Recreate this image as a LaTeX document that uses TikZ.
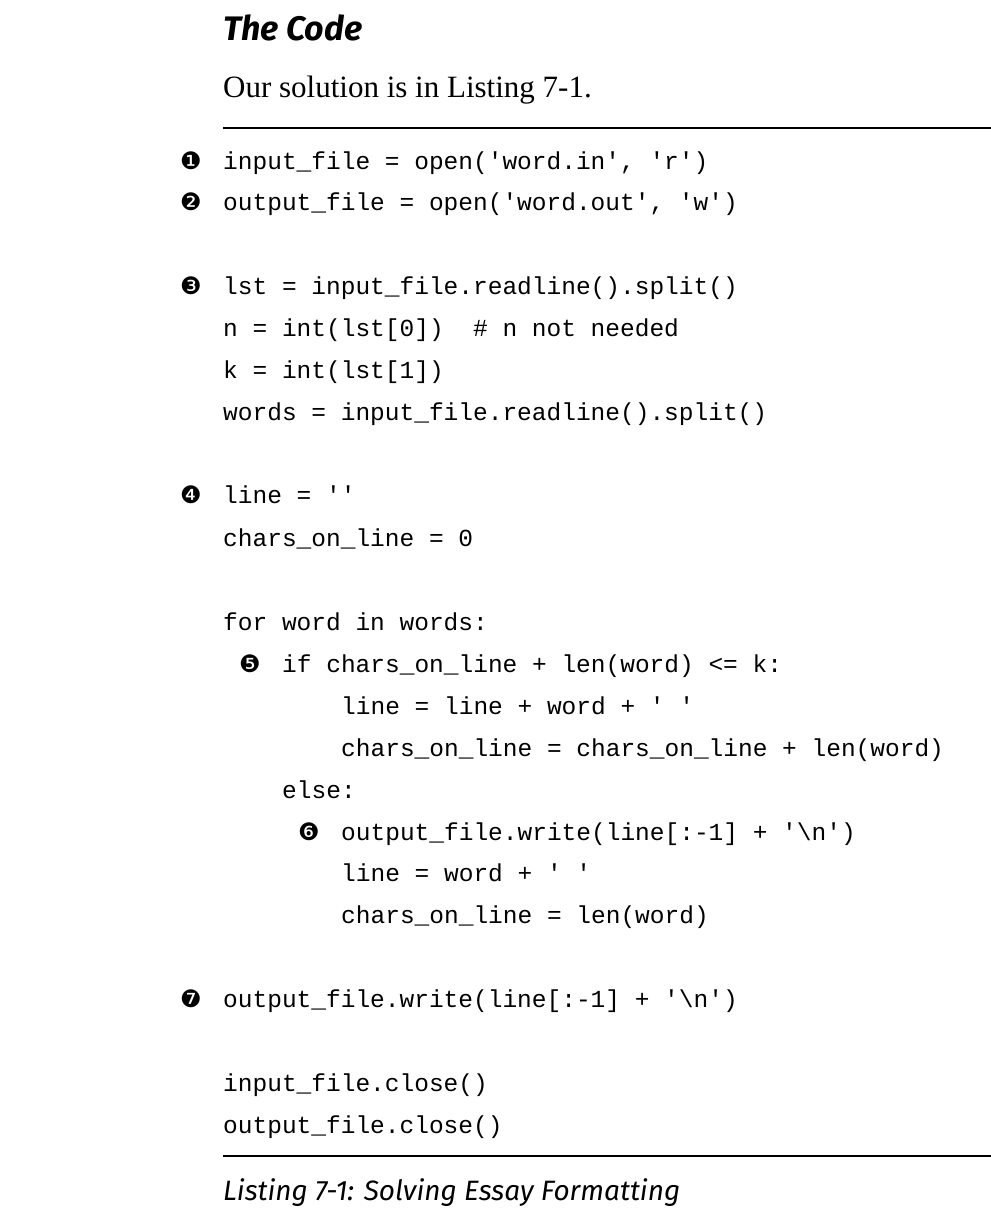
\documentclass[tikz,border=0pt]{standalone}
\usepackage{fontspec}
\setmainfont{Liberation Serif}
\newfontfamily\codefont{Liberation Mono}
\newfontfamily\sansfont{Fira Sans}[Ligatures=TeX]
\newfontfamily\numfont{DejaVu Sans}
\begin{document}
\begin{tikzpicture}[x=1pt,y=-1pt,
  code/.style={anchor=base west,inner sep=0pt,font=\codefont\fontsize{24.5}{26}\selectfont},
  numbadge/.style={anchor=base west,inner sep=0pt,font=\numfont\fontsize{24}{26}\selectfont}]
\useasboundingbox (0,0) rectangle (991,1216);
\node[anchor=base west,inner sep=0pt,font=\sansfont\bfseries\itshape\fontsize{34}{40}\selectfont] (title) at (223,40) {The Code};
\node[anchor=base west,inner sep=0pt,font=\fontsize{31}{34}\selectfont] (intro) at (223,97) {Our solution is in Listing 7-1.};
\coordinate (r1a) at (223,128); \coordinate (r1b) at (991,128);
\draw[line width=1.2pt] (r1a) -- (r1b);
\node[numbadge] (m1) at (180,169) {❶};
\node[code] (l1) at (223,169) {input\_file = open('word.in', 'r')};
\node[numbadge] (m2) at (180,210) {❷};
\node[code] (l2) at (223,210) {output\_file = open('word.out', 'w')};
\node[numbadge] (m3) at (180,294) {❸};
\node[code] (l3) at (223,294) {lst = input\_file.readline().split()};
\node[code] (l4) at (223,336) {n = int(lst[0])\ \ \# n not needed};
\node[code] (l5) at (223,378) {k = int(lst[1])};
\node[code] (l6) at (223,420) {words = input\_file.readline().split()};
\node[numbadge] (m4) at (180,503) {❹};
\node[code] (l7) at (223,503) {line = ''};
\node[code] (l8) at (223,546) {chars\_on\_line = 0};
\node[code] (l9) at (223,630) {for word in words:};
\node[numbadge] (m5) at (239,672) {❺};
\node[code] (l10) at (282,672) {if chars\_on\_line + len(word) <= k:};
\node[code] (l11) at (341,714) {line = line + word + ' '};
\node[code] (l12) at (341,756) {chars\_on\_line = chars\_on\_line + len(word)};
\node[code] (l13) at (282,798) {else:};
\node[numbadge] (m6) at (298,840) {❻};
\node[code] (l14) at (341,840) {output\_file.write(line[:-1] + '\textbackslash n')};
\node[code] (l15) at (341,881) {line = word + ' '};
\node[code] (l16) at (341,923) {chars\_on\_line = len(word)};
\node[numbadge] (m7) at (180,1007) {❼};
\node[code] (l17) at (223,1007) {output\_file.write(line[:-1] + '\textbackslash n')};
\node[code] (l18) at (223,1091) {input\_file.close()};
\node[code] (l19) at (223,1133) {output\_file.close()};
\coordinate (r2a) at (223,1156); \coordinate (r2b) at (991,1156);
\draw[line width=1.2pt] (r2a) -- (r2b);
\node[anchor=base west,inner sep=0pt,font=\sansfont\itshape\fontsize{28}{32}\selectfont] (cap) at (223,1200) {Listing 7-1: Solving Essay Formatting};
\end{tikzpicture}
\end{document}
